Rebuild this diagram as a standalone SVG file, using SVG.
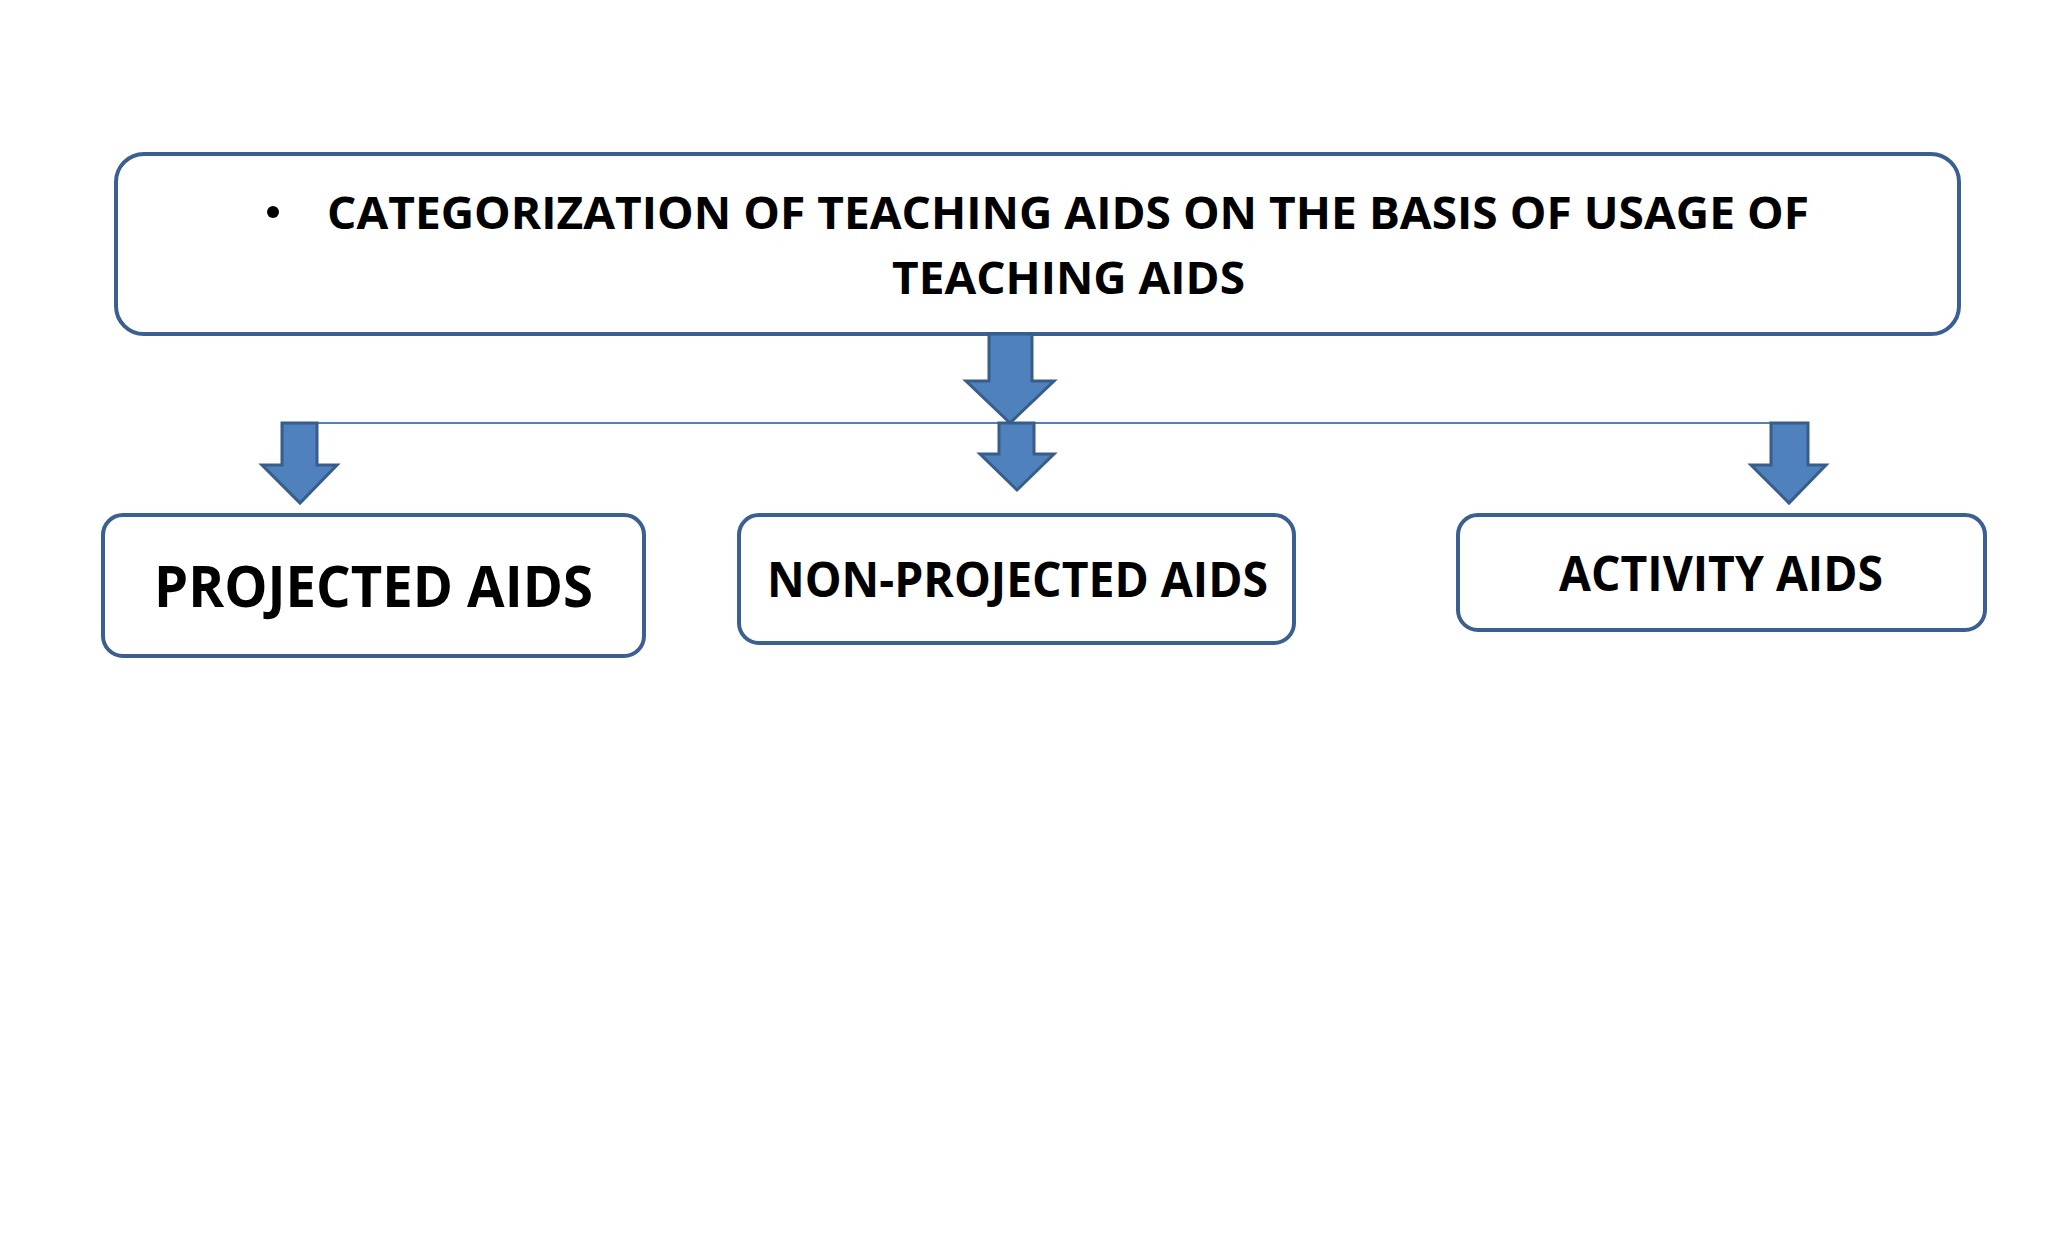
<svg xmlns="http://www.w3.org/2000/svg" width="2048" height="1234" viewBox="0 0 2048 1234">
<style>
.box{fill:#fff;stroke:#3c5f92;stroke-width:4}
.t{font-family:"Open Sans","Liberation Sans",sans-serif;font-weight:bold;fill:#000}
.arr{fill:#4f81bd;stroke:#385d8a;stroke-width:3}
</style>
<rect width="2048" height="1234" fill="#fff"/>
<g id="top">
<rect class="box" x="116" y="154" width="1843" height="180" rx="28"/>
<circle cx="273" cy="212" r="6" fill="#000"/>
<text class="t" x="327" y="229" font-size="44" textLength="1482" lengthAdjust="spacingAndGlyphs">CATEGORIZATION OF TEACHING AIDS ON THE BASIS OF USAGE OF</text>
<text class="t" x="892" y="294" font-size="44" textLength="353" lengthAdjust="spacingAndGlyphs">TEACHING AIDS</text>
</g>
<g id="connectors">
<line x1="300" y1="423" x2="1789" y2="423" stroke="#4f81bd" stroke-width="2"/>
<polygon class="arr" points="989,334 1032,334 1032,381 1054,381 1010,423 966,381 989,381"/>
<polygon class="arr" points="282,423 317,423 317,465 337,465 300,503 262,465 282,465"/>
<polygon class="arr" points="999,423 1034,423 1034,454 1054,454 1017,490 980,454 999,454"/>
<polygon class="arr" points="1771,423 1808,423 1808,465 1826,465 1789,503 1751,465 1771,465"/>
</g>
<g id="projected">
<rect class="box" x="103" y="515" width="541" height="141" rx="20"/>
<text class="t" x="154" y="607" font-size="58" textLength="439" lengthAdjust="spacingAndGlyphs">PROJECTED AIDS</text>
</g>
<g id="nonprojected">
<rect class="box" x="739" y="515" width="555" height="128" rx="20"/>
<text class="t" x="767" y="597" font-size="48" textLength="501" lengthAdjust="spacingAndGlyphs">NON-PROJECTED AIDS</text>
</g>
<g id="activity">
<rect class="box" x="1458" y="515" width="527" height="115" rx="20"/>
<text class="t" x="1559" y="591" font-size="48" textLength="324" lengthAdjust="spacingAndGlyphs">ACTIVITY AIDS</text>
</g>
</svg>
